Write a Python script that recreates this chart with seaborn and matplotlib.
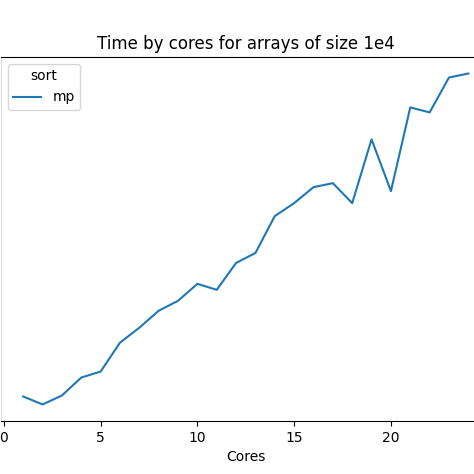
import matplotlib
matplotlib.use("Agg")
import matplotlib.pyplot as plt
import seaborn as sns
import pandas as pd

cores = list(range(1, 25))
times = [0.043, 0.035, 0.044, 0.062, 0.068, 0.097, 0.112, 0.129, 0.139, 0.156,
         0.150, 0.177, 0.187, 0.224, 0.237, 0.253, 0.257, 0.237, 0.301, 0.249,
         0.333, 0.328, 0.363, 0.367]
sorts = ["mp"] * len(cores)
xticks = [0, 5, 10, 15, 20]

df = pd.DataFrame({"Cores": cores, "Time": times, "sort": sorts})

fig = plt.figure(figsize=(4.74, 4.74), dpi=100)
ax = fig.add_axes([0.002, 0.1118, 1.033, 0.768])
sns.lineplot(data=df, x="Cores", y="Time", hue="sort", ax=ax)
ax.set_title("Time by cores for arrays of size 1e4")
ax.set_ylabel("")
ax.set_xticks(xticks)
ax.set_xlim(-0.15, 25.15)
ax.tick_params(axis="y", left=False, labelleft=False)
ax.spines["left"].set_color("#dddddd")
ax.legend(title="sort", loc="upper left")
fig.savefig("out.png", dpi=100)
